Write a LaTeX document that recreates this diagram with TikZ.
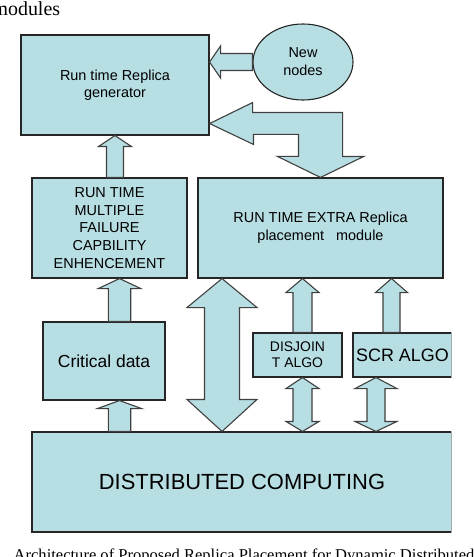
\documentclass[tikz,border=0pt]{standalone}
\usepackage{fontspec}
\setmainfont{Liberation Serif}
\newfontfamily\arialf{Liberation Sans}
\usetikzlibrary{calc,shapes.geometric}
\definecolor{boxblue}{RGB}{183,222,227}
\tikzset{
  box/.style={draw=black!85, fill=boxblue, line width=1.1bp, inner sep=1bp, align=center,
    font=\arialf\fontsize{14.5}{17.5}\selectfont},
  blk/.style={draw=black!75, fill=boxblue, line width=1.1bp, line join=miter},
}
% block arrow: start, tip, half shaft, half head, head length
\newcommand{\blockarrow}[5]{%
  \coordinate (ba-s) at #1;
  \coordinate (ba-e) at #2;
  \coordinate (ba-h) at ($(ba-e)!#5!(ba-s)$);
  \draw[blk] ($(ba-s)!#3!90:(ba-e)$) -- ($(ba-h)!#3!90:(ba-e)$) -- ($(ba-h)!#4!90:(ba-e)$)
    -- (ba-e) -- ($(ba-h)!#4!-90:(ba-e)$) -- ($(ba-h)!#3!-90:(ba-e)$) -- ($(ba-s)!#3!-90:(ba-e)$) -- cycle;
}
% double block arrow: tip, tip, half shaft, half head, head lengths
\newcommand{\dblarrow}[6]{%
  \coordinate (da-s) at #1;
  \coordinate (da-e) at #2;
  \coordinate (da-hs) at ($(da-s)!#5!(da-e)$);
  \coordinate (da-he) at ($(da-e)!#6!(da-s)$);
  \draw[blk] (da-s) -- ($(da-hs)!#4!90:(da-e)$) -- ($(da-hs)!#3!90:(da-e)$) -- ($(da-he)!#3!90:(da-e)$)
    -- ($(da-he)!#4!90:(da-e)$) -- (da-e) -- ($(da-he)!#4!-90:(da-e)$) -- ($(da-he)!#3!-90:(da-e)$)
    -- ($(da-hs)!#3!-90:(da-e)$) -- ($(da-hs)!#4!-90:(da-e)$) -- cycle;
}

\begin{document}
\begin{tikzpicture}[x=1bp,y=-1bp]
  \useasboundingbox (0,0) rectangle (474,557);

  % page text around the figure
  \node[anchor=base west, inner sep=0, font=\fontsize{20}{24}\selectfont] (head) at (-7.6,15.5) {modules};
  \node[anchor=base west, inner sep=0, font=\fontsize{16.6}{20}\selectfont] (cap) at (13.5,560.5)
    {Architecture of Proposed Replica Placement for Dynamic Distributed};

  % boxes
  \node[box, minimum width=188bp, minimum height=100bp] (gen) at (115,85) {Run time Replica\\generator};
  \node[box, ellipse, minimum width=100bp, minimum height=76bp, font=\arialf\fontsize{14.5}{18}\selectfont] (new) at (303,62) {New\\nodes};
  \node[box, minimum width=155bp, minimum height=100bp, font=\arialf\fontsize{14.5}{17.7}\selectfont] (fail) at (109.5,228)
    {RUN TIME\\MULTIPLE\\FAILURE\\CAPBILITY\\ENHENCEMENT};
  \node[box, minimum width=245bp, minimum height=100bp, font=\arialf\fontsize{14.5}{18}\selectfont] (extra) at (320.5,228)
    {RUN TIME EXTRA Replica\\placement\ \ \ module};
  \node[box, minimum width=122bp, minimum height=78bp, font=\arialf\fontsize{17.5}{21}\selectfont] (crit) at (104,361) {Critical data};
  \node[box, minimum width=89bp, minimum height=44bp, font=\arialf\fontsize{14}{16}\selectfont] (disj) at (297.5,355) {DISJOIN\\T ALGO};
  \begin{scope}
    \clip (0,0) rectangle (451.3,557);
    \node[box, minimum width=99bp, minimum height=44bp, font=\arialf\fontsize{18}{21}\selectfont] (scr) at (402.5,355) {SCR ALGO};
    \node[box, minimum width=420bp, minimum height=100bp, font=\arialf\fontsize{22}{26}\selectfont] (dist) at (242,482) {DISTRIBUTED COMPUTING};
  \end{scope}

  % arrow lanes
  \coordinate (lane2) at (119.5,0);
  \coordinate (lane3) at (222,0);
  \coordinate (lane4) at (302.5,0);
  \coordinate (lane5) at (391.5,0);
  \coordinate (lane6) at (376,0);

  % arrows
  \blockarrow{(new.west)}{(gen.east |- new.west)}{8.5bp}{16bp}{11bp}
  \blockarrow{(gen.south |- fail.north)}{(gen.south)}{8.5bp}{16.5bp}{11bp}
  \blockarrow{(lane2 |- crit.north)}{(lane2 |- fail.south)}{11.2bp}{21.2bp}{10bp}
  \blockarrow{(lane2 |- dist.north)}{(lane2 |- crit.south)}{11.2bp}{22bp}{8bp}
  \dblarrow{(lane3 |- dist.north)}{(lane3 |- extra.south)}{17.5bp}{35bp}{32bp}{29bp}
  \blockarrow{(lane4 |- disj.north)}{(lane4 |- extra.south)}{9.5bp}{16.5bp}{14bp}
  \blockarrow{(lane5 |- scr.north)}{(lane5 |- extra.south)}{8.5bp}{16bp}{14bp}
  \dblarrow{(lane4 |- dist.north)}{(lane4 |- disj.south)}{9.5bp}{16.5bp}{10bp}{11bp}
  \dblarrow{(lane6 |- dist.north)}{(lane6 |- scr.south)}{9bp}{21bp}{10bp}{11bp}

  % bent arrow between generator and placement module
  \draw[blk] ($(gen.south east)+(0,-12)$) -- ++(43,-21) -- ++(0,10) -- ++(90,0) -- ++(0,44) -- ++(21,0)
    -- (extra.north) -- ++(-43,-21) -- ++(21,0) -- ++(0,-22) -- ++(-45,0) -- ++(0,10) -- cycle;
\end{tikzpicture}
\end{document}
